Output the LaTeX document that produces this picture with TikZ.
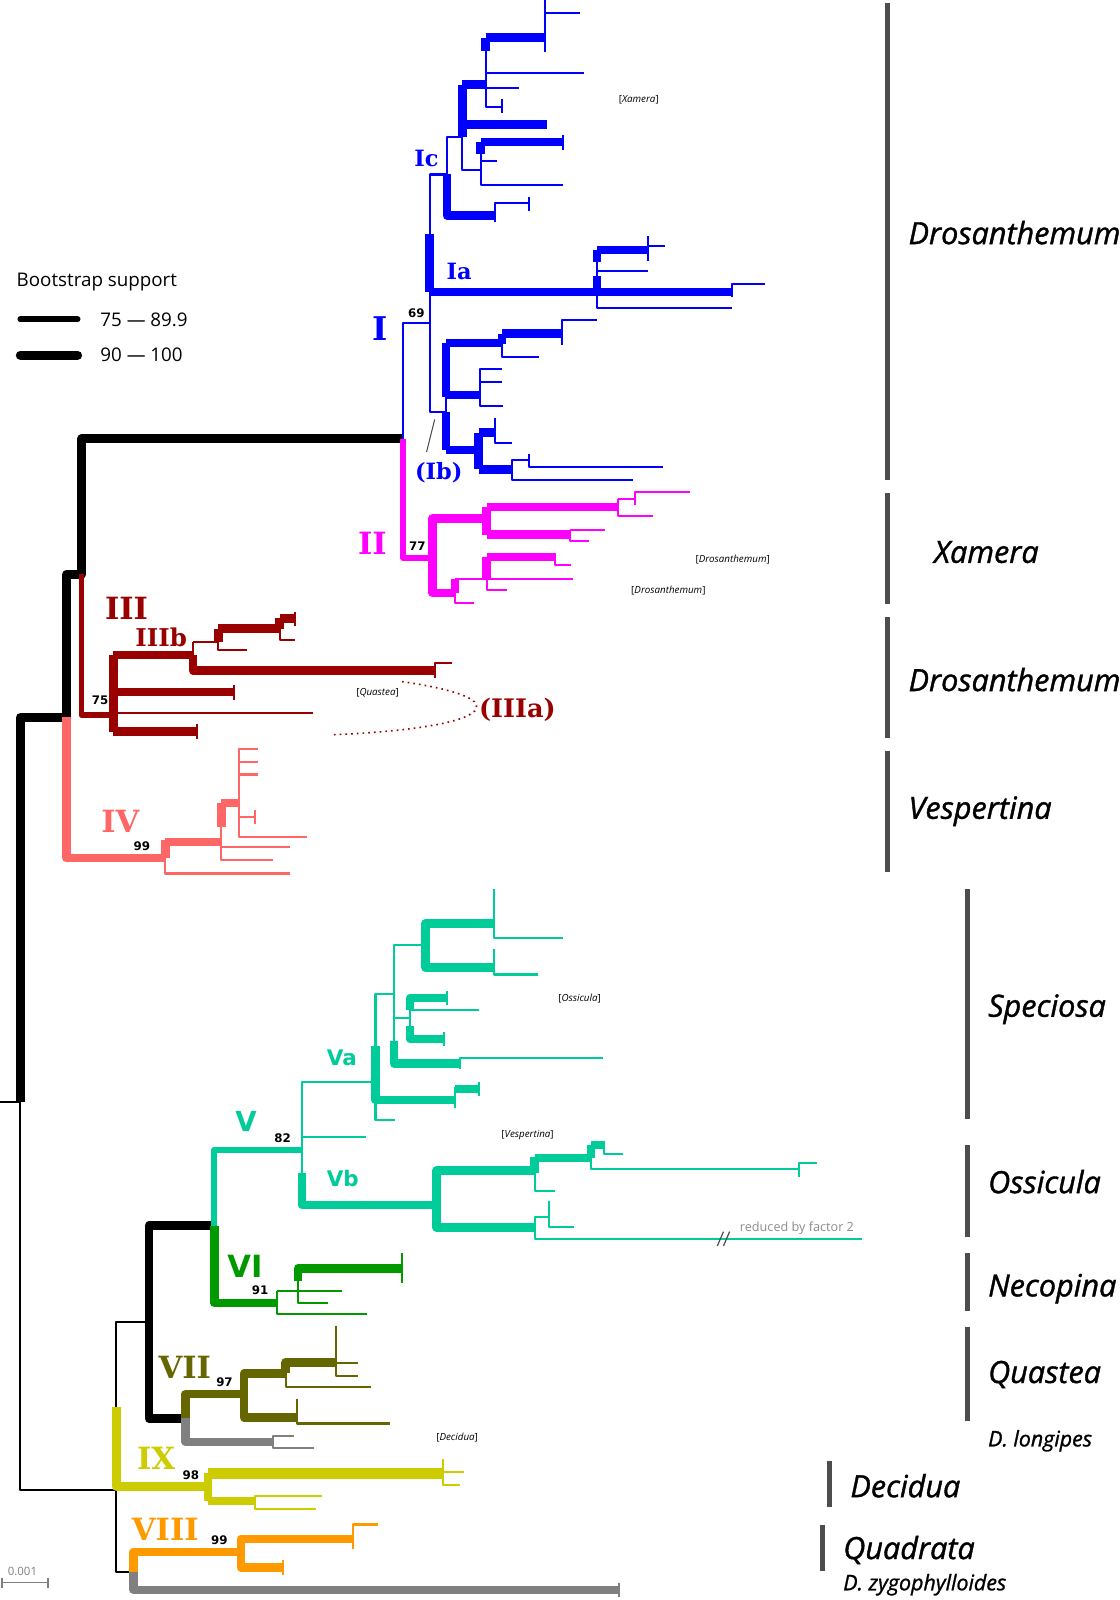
\documentclass[tikz,border=0pt]{standalone}
\usepackage{fontspec}
\setmainfont{Open Sans}
\newfontfamily\grpfont[ItalicFeatures={FakeBold=1.2}]{Open Sans}
\newfontfamily\slab{DejaVu Serif}
\newfontfamily\dsans{DejaVu Sans}
\definecolor{cblue}{RGB}{0,0,255}
\definecolor{cmag}{RGB}{255,0,255}
\definecolor{cdred}{RGB}{153,0,0}
\definecolor{csalm}{RGB}{255,102,102}
\definecolor{cteal}{RGB}{0,204,153}
\definecolor{cgreen}{RGB}{0,153,0}
\definecolor{colive}{RGB}{102,102,0}
\definecolor{cgray}{RGB}{128,128,128}
\definecolor{cyel}{RGB}{204,204,0}
\definecolor{corange}{RGB}{255,153,0}
\definecolor{cbar}{RGB}{77,77,77}
\begin{document}
\begin{tikzpicture}[x=0.5pt,y=-0.5pt,line join=round,
  tn/.style={line width=1pt},
  tm/.style={line width=2.8pt},
  tk/.style={line width=4.2pt},
  bar/.style={draw=cbar,line width=2.4pt},
  clab/.style={font=\slab\bfseries\fontsize{15}{15}\selectfont,inner sep=0},
  slab/.style={font=\slab\bfseries\fontsize{11}{11}\selectfont,inner sep=0},
  sanslab/.style={font=\dsans\bfseries\fontsize{13.5}{13.5}\selectfont,inner sep=0},
  sansslab/.style={font=\dsans\bfseries\fontsize{10.5}{10.5}\selectfont,inner sep=0},
  bs/.style={font=\dsans\bfseries\fontsize{5.8}{5.8}\selectfont,inner sep=0.5pt},
  br/.style={font=\fontsize{4.8}{4.8}\selectfont,inner sep=0},
  grp/.style={font=\grpfont\itshape\fontsize{15}{15}\selectfont,anchor=west,inner sep=0},
  sp/.style={font=\grpfont\itshape\fontsize{10.5}{10.5}\selectfont,anchor=west,inner sep=0}]
\useasboundingbox (0,0) rectangle (1097,1568);

% ---------------- backbone (black)
\begin{scope}[draw=black]
\draw[tn] (0,1080) -- (20,1080);
\draw[tk] (20,1080) -- (20,703) -- (65,703) -- (65,563) -- (80,563) -- (80,430) -- (395,430);
\draw[tn] (20,1080) -- (20,1460) -- (114,1460);
\draw[tn] (146,1296) -- (114,1296) -- (114,1541) -- (131,1541);
\draw[tk] (210,1201) -- (146,1201) -- (146,1390) -- (182,1390);
\end{scope}

% ---------------- clade I (blue)
\begin{scope}[draw=cblue]
\draw[tn] (395,430) -- (395,317) -- (421,317);
\draw[tn] (438,171) -- (421,171) -- (421,229);
\draw[tk] (421,229) -- (421,286);
\draw[tn] (421,286) -- (421,404) -- (437,404);
% Ia
\draw[tk] (421,286) -- (717,286);
\draw[tk] (585,245) -- (585,257);
\draw[tn] (585,257) -- (585,302) -- (717,302);
\draw[tk] (585,270) -- (585,287);
\draw[tk] (585,245) -- (635,245);
\draw[tn] (635,231) -- (635,256);
\draw[tn] (635,241) -- (652,241);
\draw[tn] (585,266) -- (635,266);
\draw[tn] (717,291) -- (717,278) -- (750,278);
% Ib
\draw[tk] (437,336) -- (437,389);
\draw[tn] (437,389) -- (437,404);
\draw[tk] (437,404) -- (437,441);
\draw[tk] (437,336) -- (492,336);
\draw[tk] (492,327) -- (492,337);
\draw[tn] (492,337) -- (492,350) -- (528,350);
\draw[tk] (492,327) -- (551,327);
\draw[tn] (551,338) -- (551,314) -- (585,314);
\draw[tk] (437,387) -- (470,387);
\draw[tn] (492,362) -- (470,362) -- (470,398) -- (493,398);
\draw[tn] (470,374) -- (492,374);
\draw[tk] (437,441) -- (469,441);
\draw[tk] (469,424) -- (469,460);
\draw[tk] (469,424) -- (485,424);
\draw[tn] (485,410) -- (485,434) -- (502,434);
\draw[tk] (469,460) -- (502,460);
\draw[tn] (518,451) -- (502,451) -- (502,470) -- (620,470);
\draw[tn] (518,445) -- (518,458) -- (650,458);
% Ic
\draw[tn] (453,134) -- (438,134) -- (438,171);
\draw[tk] (438,171) -- (438,211) -- (485,211);
\draw[tn] (485,218) -- (485,199) -- (518,199);
\draw[tn] (518,193) -- (518,207);
\draw[tk] (453,83) -- (453,134);
\draw[tn] (453,134) -- (453,167) -- (471,167);
\draw[tk] (453,83) -- (476,83);
\draw[tk] (476,37) -- (476,50);
\draw[tn] (476,50) -- (476,105) -- (492,105);
\draw[tn] (492,97) -- (492,111);
\draw[tk] (476,37) -- (534,37);
\draw[tn] (534,0) -- (534,51);
\draw[tn] (534,13) -- (568,13);
\draw[tn] (476,72) -- (572,72);
\draw[tn] (476,86) -- (509,86);
\draw[tk] (453,122) -- (536,122);
\draw[tk] (471,139) -- (471,151);
\draw[tn] (471,151) -- (471,181) -- (552,181);
\draw[tk] (471,139) -- (552,139);
\draw[tn] (552,132) -- (552,147);
\draw[tn] (471,158) -- (487,158);
\end{scope}
\draw[black!70,line width=0.5pt] (426,411) -- (418,443);

% ---------------- clade II (magenta)
\begin{scope}[draw=cmag]
\draw[tm] (395,430) -- (395,547) -- (424,547);
\draw[tk] (477,508) -- (424,508) -- (424,581) -- (446,581);
\draw[tk] (477,497) -- (477,524);
\draw[tk] (477,497) -- (606,497);
\draw[tn] (606,489) -- (606,506) -- (640,506);
\draw[tn] (606,489) -- (622,489);
\draw[tn] (622,495) -- (622,482) -- (676,482);
\draw[tk] (477,524) -- (559,524);
\draw[tn] (559,519) -- (559,530) -- (577,530);
\draw[tn] (559,519) -- (593,519);
\draw[tk] (446,567) -- (446,581);
\draw[tn] (446,581) -- (446,591) -- (465,591);
\draw[tn] (446,567) -- (562,567);
\draw[tk] (477,546) -- (477,567);
\draw[tn] (477,567) -- (477,578) -- (497,578);
\draw[tk] (477,546) -- (544,546);
\draw[tn] (544,542) -- (544,554) -- (560,554);
\end{scope}

% ---------------- clade III (dark red)
\begin{scope}[draw=cdred]
\draw[tm] (80,563) -- (80,701) -- (111,701);
\draw[tk] (111,642) -- (111,717);
\draw[tk] (111,642) -- (189,642);
\draw[tn] (189,629) -- (189,642);
\draw[tk] (189,642) -- (189,657) -- (426,657);
\draw[tn] (426,664) -- (426,650) -- (443,650);
\draw[tn] (189,629) -- (214,629);
\draw[tk] (214,616) -- (214,629);
\draw[tn] (214,629) -- (214,637) -- (242,637);
\draw[tk] (214,616) -- (274,616);
\draw[tk] (274,606) -- (274,616);
\draw[tn] (274,616) -- (274,627) -- (289,627);
\draw[tk] (274,606) -- (289,606);
\draw[tn] (289,600) -- (289,613);
\draw[tk] (111,678) -- (229,678);
\draw[tn] (229,671) -- (229,686);
\draw[tn] (111,699) -- (307,699);
\draw[tk] (111,717) -- (193,717);
\draw[tn] (193,710) -- (193,724);
\draw[line width=0.8pt,dotted] (394,668) .. controls (450,676) and (470,686) .. (467,694)
   .. controls (462,708) and (400,717) .. (327,720);
\end{scope}

% ---------------- clade IV (salmon)
\begin{scope}[draw=csalm]
\draw[tk] (65,703) -- (65,841) -- (162,841);
\draw[tk] (162,823) -- (162,841);
\draw[tn] (162,841) -- (162,856) -- (284,856);
\draw[tk] (162,825) -- (217,825);
\draw[tk] (217,787) -- (217,810);
\draw[tn] (217,810) -- (217,843) -- (268,843);
\draw[tn] (217,830) -- (284,830);
\draw[tk] (217,787) -- (234,787);
\draw[tn] (253,734) -- (234,734) -- (234,820) -- (301,820);
\draw[tn] (234,747) -- (253,747);
\draw[tn] (234,759) -- (253,759);
\draw[tn] (234,801) -- (250,801);
\draw[tn] (250,794) -- (250,808);
\end{scope}

% ---------------- clade V (teal)
\begin{scope}[draw=cteal]
\draw[tm] (210,1201) -- (210,1127) -- (296,1127);
\draw[tn] (368,1060) -- (296,1060) -- (296,1150);
\draw[tk] (296,1150) -- (296,1181) -- (428,1181);
\draw[tn] (296,1114) -- (359,1114);
% Va
\draw[tn] (386,974) -- (368,974) -- (368,1025);
\draw[tk] (368,1025) -- (368,1078) -- (446,1078);
\draw[tn] (368,1078) -- (368,1098) -- (387,1098);
\draw[tn] (417,926) -- (386,926) -- (386,1020);
\draw[tk] (386,1020) -- (386,1042) -- (451,1042);
\draw[tk] (484,905) -- (417,905) -- (417,948) -- (484,948);
\draw[tn] (484,871) -- (484,919) -- (552,919);
\draw[tn] (484,930) -- (484,955) -- (527,955);
\draw[tn] (386,998) -- (402,998);
\draw[tk] (438,978) -- (402,978) -- (402,990);
\draw[tn] (402,990) -- (402,1005);
\draw[tk] (402,1005) -- (402,1018) -- (435,1018);
\draw[tn] (438,971) -- (438,985);
\draw[tn] (435,1011) -- (435,1025);
\draw[tn] (402,990) -- (469,990);
\draw[tn] (451,1048) -- (451,1037) -- (591,1037);
\draw[tn] (446,1065) -- (446,1086);
\draw[tk] (446,1067) -- (469,1067);
\draw[tn] (469,1060) -- (469,1074);
% Vb
\draw[tk] (524,1147) -- (428,1147) -- (428,1203) -- (524,1203);
\draw[tk] (524,1134) -- (524,1150);
\draw[tn] (524,1150) -- (524,1167) -- (544,1167);
\draw[tk] (524,1135) -- (579,1135);
\draw[tk] (579,1122) -- (579,1135);
\draw[tn] (579,1135) -- (579,1146) -- (783,1146);
\draw[tk] (579,1122) -- (592,1122);
\draw[tn] (592,1118) -- (592,1131) -- (611,1131);
\draw[tn] (783,1153) -- (783,1140) -- (801,1140);
\draw[tn] (538,1193) -- (524,1193) -- (524,1214) -- (845,1214);
\draw[tn] (538,1177) -- (538,1202) -- (563,1202);
\end{scope}
\draw[black!70,line width=0.6pt] (703,1221) -- (709,1207) (709,1221) -- (715,1207);

% ---------------- clade VI (green)
\begin{scope}[draw=cgreen]
\draw[tk] (210,1201) -- (210,1277) -- (271,1277);
\draw[tn] (271,1265) -- (271,1288) -- (360,1288);
\draw[tn] (271,1265) -- (335,1265);
\draw[tk] (292,1255) -- (292,1243) -- (394,1243);
\draw[tn] (292,1255) -- (292,1277) -- (321,1277);
\draw[tn] (394,1228) -- (394,1257);
\end{scope}

% ---------------- clade VII (olive) and D. longipes (gray)
\begin{scope}[draw=colive]
\draw[tk] (182,1390) -- (182,1366) -- (239,1366);
\draw[tk] (280,1346) -- (239,1346) -- (239,1389) -- (291,1389);
\draw[tk] (280,1346) -- (280,1335) -- (329,1335);
\draw[tn] (280,1346) -- (280,1359) -- (364,1359);
\draw[tn] (329,1299) -- (329,1348) -- (351,1348);
\draw[tn] (329,1336) -- (351,1336);
\draw[tn] (291,1371) -- (291,1395) -- (382,1395);
\end{scope}
\begin{scope}[draw=cgray]
\draw[tk] (182,1390) -- (182,1413) -- (268,1413);
\draw[tn] (288,1407) -- (268,1407) -- (268,1419) -- (308,1419);
\end{scope}

% ---------------- clade IX (yellow)
\begin{scope}[draw=cyel]
\draw[tk] (114,1379) -- (114,1457) -- (204,1457);
\draw[tk] (204,1444) -- (204,1471);
\draw[line width=5pt] (204,1444) -- (434,1444);
\draw[tn] (434,1430) -- (434,1455) -- (451,1455);
\draw[tn] (434,1443) -- (455,1443);
\draw[tk] (204,1471) -- (250,1471);
\draw[tn] (316,1466) -- (250,1466) -- (250,1479) -- (310,1479);
\end{scope}

% ---------------- clade VIII (orange) and D. zygophylloides (gray)
\begin{scope}[draw=corange]
\draw[tk] (131,1541) -- (131,1521) -- (236,1521);
\draw[tk] (346,1508) -- (236,1508) -- (236,1536) -- (277,1536);
\draw[tn] (277,1529) -- (277,1543);
\draw[tn] (346,1518) -- (346,1494) -- (370,1494);
\end{scope}
\begin{scope}[draw=cgray]
\draw[tk] (131,1541) -- (131,1558) -- (607,1558);
\draw[tn] (607,1551) -- (607,1565);
\end{scope}

% ---------------- scale bar
\draw[cgray,line width=0.8pt] (2,1546) -- (2,1556) (2,1551) -- (47,1551) (47,1546) -- (47,1556);
\node[text=cgray,font=\fontsize{5.6}{5.6}\selectfont,inner sep=0] (scl) at (22,1540) {0.001};

% ---------------- clade labels
\node[clab,text=cblue,font=\slab\bfseries\fontsize{16}{16}\selectfont] (lI) at (373,322) {I};
\node[slab,text=cblue] (lIa) at (450,266) {Ia};
\node[slab,text=cblue] (lIc) at (418,155) {Ic};
\node[slab,text=cblue] (lIb) at (430,463) {(Ib)};
\node[clab,text=cmag] (lII) at (365,532) {II};
\node[clab,text=cdred] (lIII) at (124,596) {III};
\node[slab,text=cdred,font=\slab\bfseries\fontsize{12}{12}\selectfont] (lIIIb) at (158,625) {IIIb};
\node[slab,text=cdred,font=\slab\bfseries\fontsize{12.5}{12.5}\selectfont] (lIIIa) at (507,696) {(IIIa)};
\node[clab,text=csalm] (lIV) at (118,805) {IV};
\node[sanslab,text=cteal] (lV) at (241,1099) {V};
\node[sansslab,text=cteal] (lVa) at (335,1037) {Va};
\node[sansslab,text=cteal] (lVb) at (336,1155) {Vb};
\node[sanslab,text=cgreen,font=\dsans\bfseries\fontsize{15}{15}\selectfont] (lVI) at (240,1241) {VI};
\node[clab,text=colive] (lVII) at (181,1340) {VII};
\node[clab,text=cyel] (lIX) at (153,1429) {IX};
\node[clab,text=corange] (lVIII) at (162,1499) {VIII};

% ---------------- bootstrap values
\node[bs] (b69) at (408,307) {69};
\node[bs] (b77) at (409,535) {77};
\node[bs,fill=white] (b75) at (98,686) {75};
\node[bs] (b99a) at (139,829) {99};
\node[bs] (b82) at (277,1115) {82};
\node[bs] (b91) at (255,1264) {91};
\node[bs] (b97) at (220,1355) {97};
\node[bs] (b98) at (187,1446) {98};
\node[bs] (b99b) at (215,1509) {99};

% ---------------- bracketed section names
\node[br] (nx) at (626,98) {[\textit{Xamera}]};
\node[br] (nd1) at (718,548) {[\textit{Drosanthemum}]};
\node[br] (nd2) at (655,579) {[\textit{Drosanthemum}]};
\node[br] (nq) at (370,679) {[\textit{Quastea}]};
\node[br] (no) at (568,979) {[\textit{Ossicula}]};
\node[br] (nv) at (517,1112) {[\textit{Vespertina}]};
\node[br] (ndc) at (448,1409) {[\textit{Decidua}]};
\node[text=black!45,font=\fontsize{6.2}{6.2}\selectfont,inner sep=0] (red) at (781,1204) {reduced by factor 2};

% ---------------- legend
\node[anchor=west,inner sep=0,font=\fontsize{9.2}{9.2}\selectfont] (lg) at (16,276) {Bootstrap support};
\draw[line width=2.9pt,line cap=round] (20,313) -- (76,313);
\draw[line width=4.5pt,line cap=round] (20,348) -- (76,348);
\node[anchor=west,inner sep=0,font=\fontsize{9.2}{9.2}\selectfont] (lg1) at (98,313) {75 — 89.9};
\node[anchor=west,inner sep=0,font=\fontsize{9.2}{9.2}\selectfont] (lg2) at (98,348) {90 — 100};

% ---------------- section bars
\draw[bar] (870,3) -- (870,470);
\draw[bar] (870,483) -- (870,592);
\draw[bar] (870,605) -- (870,723);
\draw[bar] (870,736) -- (870,855);
\draw[bar] (948,871) -- (948,1097);
\draw[bar] (948,1122) -- (948,1212);
\draw[bar] (948,1228) -- (948,1285);
\draw[bar] (948,1300) -- (948,1393);
\draw[bar] (813,1432) -- (813,1477);
\draw[bar] (806,1494) -- (806,1540);
\node[grp] (s1) at (890,228) {Drosanthemum};
\node[grp] (s2) at (915,541) {Xamera};
\node[grp] (s3) at (890,666) {Drosanthemum};
\node[grp] (s4) at (890,795) {Vespertina};
\node[grp] (s5) at (968,989) {Speciosa};
\node[grp] (s6) at (968,1158) {Ossicula};
\node[grp] (s7) at (968,1263) {Necopina};
\node[grp] (s8) at (968,1347) {Quastea};
\node[sp] (s9) at (968,1412) {D. longipes};
\node[grp] (s10) at (833,1456) {Decidua};
\node[grp] (s11) at (826,1519) {Quadrata};
\node[sp] (s12) at (826,1553) {D. zygophylloides};
\end{tikzpicture}
\end{document}
